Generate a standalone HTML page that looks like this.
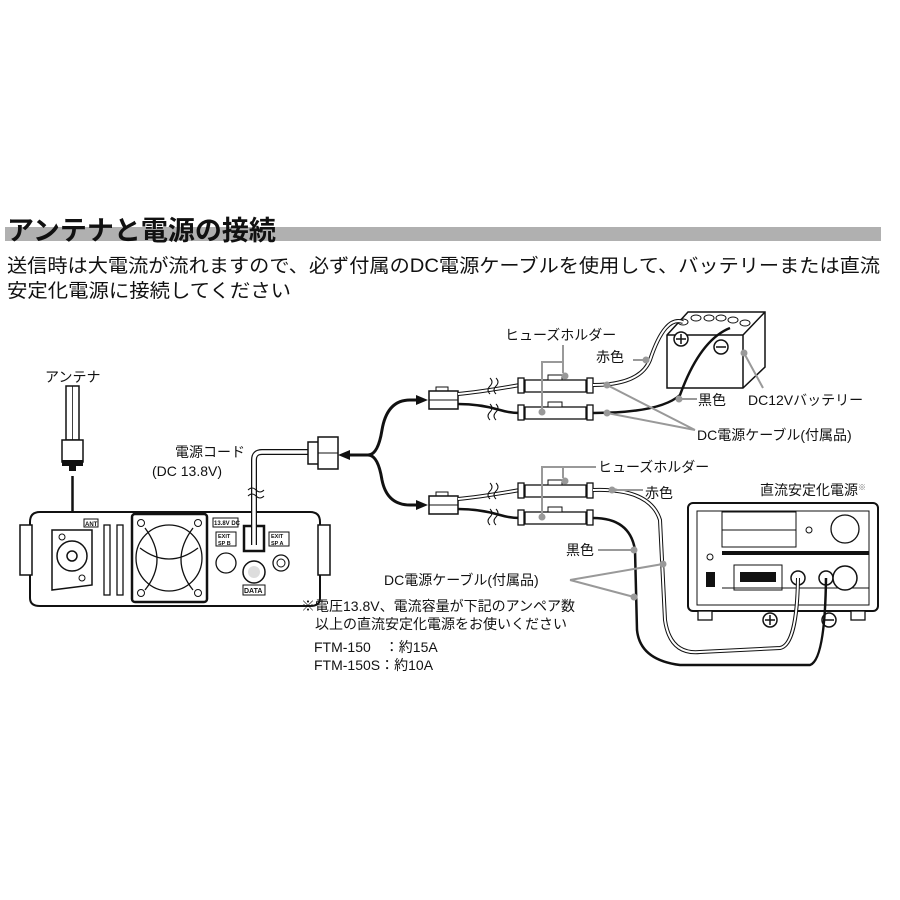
<!DOCTYPE html>
<html><head><meta charset="utf-8"><style>
html,body{margin:0;padding:0;background:#fff;}
svg{display:block;}
text{font-family:"Liberation Sans","Noto Sans CJK JP",sans-serif;fill:#111;}
</style></head><body>
<svg width="900" height="900" viewBox="0 0 900 900" xmlns="http://www.w3.org/2000/svg">
<rect x="5" y="227" width="876" height="14" fill="#b0b0b0"/>
<text x="7" y="240" font-size="27" font-weight="bold">アンテナと電源の接続</text>
<text x="7" y="272" font-size="19" textLength="873" lengthAdjust="spacingAndGlyphs">送信時は大電流が流れますので、必ず付属のDC電源ケーブルを使用して、バッテリーまたは直流</text>
<text x="7" y="297" font-size="19" textLength="284" lengthAdjust="spacingAndGlyphs">安定化電源に接続してください</text>

<!-- antenna -->
<text x="45" y="382" font-size="14">アンテナ</text>
<rect x="66" y="386" width="13" height="54" fill="#fff" stroke="#111" stroke-width="1.5"/>
<line x1="72.5" y1="386" x2="72.5" y2="440" stroke="#111" stroke-width="0.8"/>
<rect x="62" y="440" width="21" height="22" fill="#fff" stroke="#111" stroke-width="1.5"/>
<rect x="62" y="460" width="21" height="6" fill="#111"/>
<rect x="69" y="466" width="7" height="5" fill="#111"/>
<line x1="72.5" y1="476" x2="72.5" y2="525" stroke="#111" stroke-width="2.5"/>
<polygon points="66,522 79,522 72.5,536" fill="#111"/>

<!-- radio -->
<path d="M40,512 L310,512 Q320,512 320,522 L320,598 Q320,606 310,606 L40,606 Q30,606 30,598 L30,522 Q30,512 40,512Z" fill="#fff" stroke="#111" stroke-width="2"/>
<rect x="20" y="525" width="12" height="50" fill="#fff" stroke="#111" stroke-width="1.5"/>
<rect x="318" y="525" width="12" height="50" fill="#fff" stroke="#111" stroke-width="1.5"/>
<path d="M52,530 L92,530 L92,585 L52,590Z" fill="#fff" stroke="#111" stroke-width="1.5"/>
<circle cx="72" cy="556" r="15" fill="#fff" stroke="#111" stroke-width="1.5"/>
<circle cx="72" cy="556" r="5" fill="#fff" stroke="#111" stroke-width="1.5"/>
<circle cx="62" cy="537" r="3" fill="none" stroke="#111"/><circle cx="82" cy="578" r="3" fill="none" stroke="#111"/>
<rect x="84" y="519" width="14" height="8" fill="#fff" stroke="#111"/><text x="85" y="526" font-size="6" font-weight="bold">ANT</text>
<rect x="104" y="525" width="6" height="70" fill="#fff" stroke="#111" stroke-width="1.3"/>
<rect x="117" y="525" width="6" height="70" fill="#fff" stroke="#111" stroke-width="1.3"/>
<rect x="132" y="514" width="75" height="88" rx="3" fill="#fff" stroke="#111" stroke-width="2.5"/>
<circle cx="169" cy="558" r="33" fill="none" stroke="#111" stroke-width="1.3"/>
<path d="M145,528 Q169,560 145,590 M193,528 Q169,560 193,590 M140,548 Q169,570 198,548" fill="none" stroke="#111" stroke-width="1.3"/>
<circle cx="141" cy="523" r="3.5" fill="none" stroke="#111"/><circle cx="198" cy="523" r="3.5" fill="none" stroke="#111"/>
<circle cx="141" cy="593" r="3.5" fill="none" stroke="#111"/><circle cx="198" cy="593" r="3.5" fill="none" stroke="#111"/>
<rect x="213" y="518" width="25" height="9" fill="#fff" stroke="#111"/><text x="214" y="525" font-size="6" font-weight="bold">13.8V DC</text>
<rect x="216" y="532" width="20" height="14" fill="#fff" stroke="#111"/><text x="218" y="538" font-size="5.5" font-weight="bold">EXIT</text><text x="218" y="545" font-size="5.5" font-weight="bold">SP B</text>
<circle cx="226" cy="563" r="10" fill="#fff" stroke="#111" stroke-width="1.3"/>
<rect x="244" y="526" width="20" height="25" fill="#fff" stroke="#111" stroke-width="2.5"/>
<rect x="269" y="532" width="20" height="14" fill="#fff" stroke="#111"/><text x="271" y="538" font-size="5.5" font-weight="bold">EXIT</text><text x="271" y="545" font-size="5.5" font-weight="bold">SP A</text>
<circle cx="281" cy="563" r="8" fill="#fff" stroke="#111" stroke-width="1.3"/><circle cx="281" cy="563" r="4" fill="none" stroke="#111"/>
<circle cx="254" cy="572" r="11" fill="#fff" stroke="#111" stroke-width="1.5"/><circle cx="254" cy="572" r="6" fill="#ddd"/>
<rect x="243" y="585" width="22" height="10" fill="#fff" stroke="#111"/><text x="244" y="593" font-size="7" font-weight="bold">DATA</text>

<!-- power cord -->
<path d="M254,545 L254,460 Q254,452 262,452 L310,452" fill="none" stroke="#111" stroke-width="6"/>
<path d="M254,545 L254,460 Q254,452 262,452 L310,452" fill="none" stroke="#fff" stroke-width="3.5"/>
<path d="M248,490 q4,-4 8,0 q4,4 8,0 M248,496 q4,-4 8,0 q4,4 8,0" fill="none" stroke="#111" stroke-width="1"/>
<text x="175" y="457" font-size="14">電源コード</text>
<text x="152" y="476" font-size="14">(DC 13.8V)</text>
<rect x="308" y="442" width="12" height="22" fill="#fff" stroke="#111" stroke-width="1.5"/>
<rect x="318" y="437" width="20" height="32" fill="#fff" stroke="#111" stroke-width="1.5"/>
<line x1="318" y1="453" x2="338" y2="453" stroke="#111"/>

<!-- branch arrows -->
<path d="M348,455 L368,455 Q378,455 382,430 Q387,400 410,400 L420,400 M368,455 Q378,455 382,480 Q387,505 410,505 L420,505" fill="none" stroke="#111" stroke-width="3"/>
<polygon points="338,455 350,450 350,460" fill="#111"/>
<polygon points="428,400 416,395 416,405" fill="#111"/>
<polygon points="428,505 416,500 416,510" fill="#111"/>

<!-- connectors + fuse holders (two groups) -->
<g id="grp">
<rect x="429" y="391" width="29" height="18" fill="#fff" stroke="#111" stroke-width="1.5"/>
<line x1="429" y1="400" x2="458" y2="400" stroke="#111"/>
<path d="M436,391 l0,-4 l12,0 l0,4" fill="none" stroke="#111"/>
<path d="M458,394 Q480,392 520,385" fill="none" stroke="#111" stroke-width="4"/>
<path d="M458,394 Q480,392 520,385" fill="none" stroke="#fff" stroke-width="2"/>
<path d="M458,404 Q480,404 500,410 Q510,413 520,413" fill="none" stroke="#111" stroke-width="2.5"/>
<path d="M490,378 q4,4 0,8 q-4,4 0,8 M496,378 q4,4 0,8 q-4,4 0,8 M490,404 q4,4 0,8 q-4,4 0,8 M496,404 q4,4 0,8 q-4,4 0,8" fill="none" stroke="#111" stroke-width="1"/>
<rect x="518" y="378" width="6" height="15" fill="#fff" stroke="#111" stroke-width="1.3"/>
<rect x="525" y="380" width="61" height="12" fill="#fff" stroke="#111" stroke-width="1.3"/>
<rect x="587" y="378" width="6" height="15" fill="#fff" stroke="#111" stroke-width="1.3"/>
<rect x="548" y="375" width="14" height="5" fill="#fff" stroke="#111"/>
<rect x="518" y="405" width="6" height="15" fill="#fff" stroke="#111" stroke-width="1.3"/>
<rect x="525" y="407" width="61" height="12" fill="#fff" stroke="#111" stroke-width="1.3"/>
<rect x="587" y="405" width="6" height="15" fill="#fff" stroke="#111" stroke-width="1.3"/>
<rect x="548" y="402" width="14" height="5" fill="#fff" stroke="#111"/>
<path d="M542,412 L542,362 L563,362 L563,373" fill="none" stroke="#999" stroke-width="2"/>
<circle cx="565" cy="376" r="3.5" fill="#999"/><circle cx="542" cy="412" r="3.5" fill="#999"/>
</g>
<use href="#grp" transform="translate(0,105)"/>
<line x1="563" y1="362" x2="563" y2="345" stroke="#999" stroke-width="2"/>
<line x1="563" y1="467" x2="596" y2="467" stroke="#999" stroke-width="2"/>

<text x="505" y="340" font-size="14">ヒューズホルダー</text>
<text x="598" y="472" font-size="14">ヒューズホルダー</text>

<!-- battery -->
<path d="M667,335 L688,312 L765,312 L765,367 L743,388 L667,388Z" fill="#fff" stroke="#111" stroke-width="1.5"/>
<path d="M667,335 L743,335 L765,312 M743,335 L743,388" fill="none" stroke="#111" stroke-width="1.5"/>
<g fill="#fff" stroke="#111"><ellipse cx="683" cy="322" rx="5" ry="3"/><ellipse cx="696" cy="318" rx="5" ry="3"/><ellipse cx="709" cy="318" rx="5" ry="3"/><ellipse cx="721" cy="318" rx="5" ry="3"/><ellipse cx="733" cy="320" rx="5" ry="3"/><ellipse cx="745" cy="323" rx="5" ry="3"/></g>
<circle cx="681" cy="339" r="7" fill="#fff" stroke="#111" stroke-width="1.5"/><path d="M676,339h10M681,334v10" stroke="#111" stroke-width="1.5"/>
<circle cx="721" cy="347" r="7" fill="#fff" stroke="#111" stroke-width="1.5"/><path d="M716,347h10" stroke="#111" stroke-width="1.5"/>
<circle cx="744" cy="353" r="3.5" fill="#999"/><path d="M744,353 L763,388" stroke="#999" stroke-width="2"/>
<!-- battery wires -->
<path d="M593,385 Q640,385 650,360 Q665,315 683,322" fill="none" stroke="#111" stroke-width="4"/>
<path d="M593,385 Q640,385 650,360 Q665,315 683,322" fill="none" stroke="#fff" stroke-width="2"/>
<path d="M593,413 Q660,413 680,395 Q700,340 730,328" fill="none" stroke="#111" stroke-width="2.5"/>
<circle cx="607" cy="385" r="3.5" fill="#999"/><circle cx="607" cy="413" r="3.5" fill="#999"/>
<circle cx="646" cy="360" r="3.5" fill="#999"/><circle cx="679" cy="399" r="3.5" fill="#999"/>
<path d="M633,360 L646,360 M679,399 L697,399 M607,385 L695,430 M607,413 L695,430" stroke="#999" stroke-width="2" fill="none"/>
<text x="596" y="362" font-size="14">赤色</text>
<text x="698" y="405" font-size="14">黒色</text>
<text x="748" y="405" font-size="14">DC12Vバッテリー</text>
<text x="697" y="440" font-size="14">DC電源ケーブル(付属品)</text>

<!-- PSU -->
<text x="760" y="495" font-size="14">直流安定化電源<tspan font-size="8" fill="#777" dy="-5">※</tspan></text>
<rect x="688" y="503" width="190" height="108" rx="5" fill="#fff" stroke="#111" stroke-width="2"/>
<rect x="697" y="511" width="172" height="94" fill="none" stroke="#111"/>
<rect x="722" y="512" width="74" height="35" fill="#fff" stroke="#111"/>
<line x1="722" y1="530" x2="796" y2="530" stroke="#111"/>
<circle cx="845" cy="529" r="14" fill="#fff" stroke="#111" stroke-width="1.3"/>
<circle cx="809" cy="530" r="3" fill="none" stroke="#111"/>
<rect x="722" y="551" width="147" height="4" fill="#111"/>
<circle cx="710" cy="557" r="3" fill="none" stroke="#111"/>
<rect x="706" y="572" width="9" height="15" fill="#111"/>
<rect x="734" y="565" width="48" height="25" fill="#fff" stroke="#111"/>
<rect x="740" y="572" width="36" height="10" fill="#111"/>
<line x1="722" y1="588" x2="869" y2="588" stroke="#111"/>
<circle cx="798" cy="578" r="7" fill="#fff" stroke="#111" stroke-width="1.5"/>
<circle cx="826" cy="578" r="7" fill="#fff" stroke="#111" stroke-width="1.5"/>
<circle cx="845" cy="578" r="12" fill="#fff" stroke="#111" stroke-width="1.5"/>
<rect x="698" y="611" width="14" height="9" fill="#fff" stroke="#111" stroke-width="1.3"/>
<rect x="851" y="611" width="14" height="9" fill="#fff" stroke="#111" stroke-width="1.3"/>
<circle cx="770" cy="620" r="7" fill="#fff" stroke="#111" stroke-width="1.5"/><path d="M765,620h10M770,615v10" stroke="#111" stroke-width="1.5"/>
<circle cx="829" cy="620" r="7" fill="#fff" stroke="#111" stroke-width="1.5"/><path d="M824,620h10" stroke="#111" stroke-width="1.5"/>
<!-- PSU wires -->
<path d="M593,490 Q650,488 660,520 L665,620 Q670,655 700,652 L780,648 Q797,645 798,578" fill="none" stroke="#111" stroke-width="4"/>
<path d="M593,490 Q650,488 660,520 L665,620 Q670,655 700,652 L780,648 Q797,645 798,578" fill="none" stroke="#fff" stroke-width="2"/>
<path d="M593,518 Q630,518 635,550 L637,630 Q640,660 680,665 L810,665 Q825,660 826,578" fill="none" stroke="#111" stroke-width="2.5"/>
<circle cx="612" cy="490" r="3.5" fill="#999"/><circle cx="634" cy="550" r="3.5" fill="#999"/>
<circle cx="663" cy="564" r="3.5" fill="#999"/><circle cx="634" cy="597" r="3.5" fill="#999"/>
<path d="M612,490 L643,490 M598,550 L634,550 M570,580 L663,564 M570,580 L634,597" stroke="#999" stroke-width="2" fill="none"/>
<text x="645" y="498" font-size="14">赤色</text>
<text x="566" y="555" font-size="14">黒色</text>
<text x="384" y="585" font-size="14">DC電源ケーブル(付属品)</text>
<text x="301" y="611" font-size="14">※電圧13.8V、電流容量が下記のアンペア数</text>
<text x="315" y="629" font-size="14">以上の直流安定化電源をお使いください</text>
<text x="314" y="652" font-size="14">FTM-150　：約15A</text>
<text x="314" y="670" font-size="14">FTM-150S：約10A</text>
</svg>
</body></html>
